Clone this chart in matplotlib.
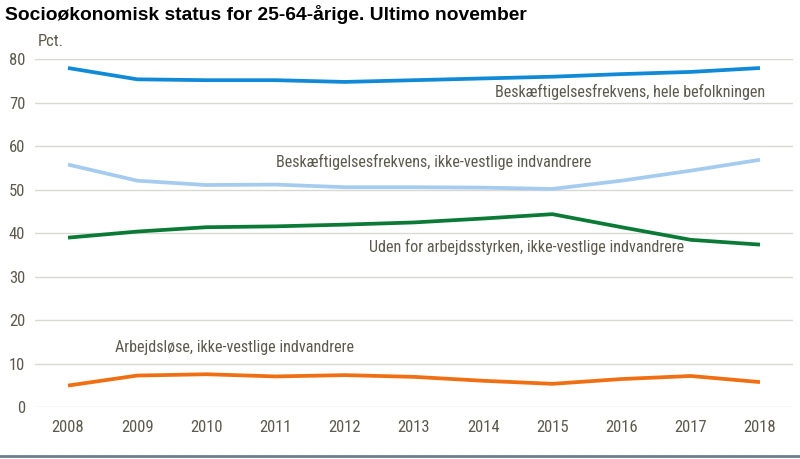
import matplotlib
matplotlib.use("Agg")
import matplotlib.pyplot as plt

# Data
years = [2008, 2009, 2010, 2011, 2012, 2013, 2014, 2015, 2016, 2017, 2018]
besk_hele = [78.0, 75.4, 75.2, 75.2, 74.8, 75.2, 75.6, 76.0, 76.6, 77.1, 78.0]
besk_ikkevest = [55.8, 52.1, 51.1, 51.2, 50.6, 50.6, 50.5, 50.2, 52.1, 54.4, 56.9]
uden_for = [39.0, 40.4, 41.4, 41.6, 42.0, 42.5, 43.4, 44.4, 41.4, 38.5, 37.4]
ledige = [5.0, 7.3, 7.6, 7.1, 7.4, 7.0, 6.1, 5.4, 6.5, 7.2, 5.8]
y_ticks = [0, 10, 20, 30, 40, 50, 60, 70, 80]

plt.rcParams['font.family'] = ['Roboto Condensed', 'DejaVu Sans']

text_col = '#5b5a4c'
grid_col = '#d9d9d4'

fig = plt.figure(figsize=(8, 4.59), dpi=100)
ax = fig.add_axes([0.04375, 0.1126, 0.9475, 0.7582])

ax.plot(years, besk_hele, color='#1089d6', lw=2.7, solid_capstyle='butt', zorder=3)
ax.plot(years, besk_ikkevest, color='#a5ccef', lw=2.7, solid_capstyle='butt', zorder=3)
ax.plot(years, uden_for, color='#0b7a37', lw=2.7, solid_capstyle='butt', zorder=3)
ax.plot(years, ledige, color='#ef6f12', lw=2.7, solid_capstyle='butt', zorder=3)

ax.set_xlim(2007.523, 2018.477)
ax.set_ylim(0, 80)
ax.set_yticks(y_ticks)
ax.set_xticks(years)
ax.grid(axis='y', color=grid_col, lw=1.0, zorder=0)
ax.set_axisbelow(True)
for s in ax.spines.values():
    s.set_visible(False)
ax.tick_params(length=0, labelsize=12, colors=text_col)
ax.tick_params(axis='y', pad=7)
ax.tick_params(axis='x', pad=9)

# series labels
lab = dict(fontsize=11.6, color=text_col, va='center')
ax.text(2018.07, 72.5, 'Beskæftigelsesfrekvens, hele befolkningen', ha='right', **lab)
ax.text(2011.0, 56.5, 'Beskæftigelsesfrekvens, ikke-vestlige indvandrere', ha='left', **lab)
ax.text(2012.35, 36.9, 'Uden for arbejdsstyrken, ikke-vestlige indvandrere', ha='left', **lab)
ax.text(2008.68, 13.8, 'Arbejdsløse, ikke-vestlige indvandrere', ha='left', **lab)

fig.text(38 / 800, 1 - 42 / 459, 'Pct.', fontsize=12, color=text_col, va='center', ha='left')
fig.text(5 / 800, 1 - 14 / 459, 'Socioøkonomisk status for 25-64-årige. Ultimo november',
         fontsize=13.9, fontweight='bold', color='black', va='center', ha='left',
         family=['Liberation Sans', 'DejaVu Sans'])

# bottom border line
fig.add_artist(plt.Line2D([0, 1], [1 - 456 / 459] * 2, color='#6d7e8e', lw=2.0,
                          transform=fig.transFigure))

fig.savefig('out.png', dpi=100)
